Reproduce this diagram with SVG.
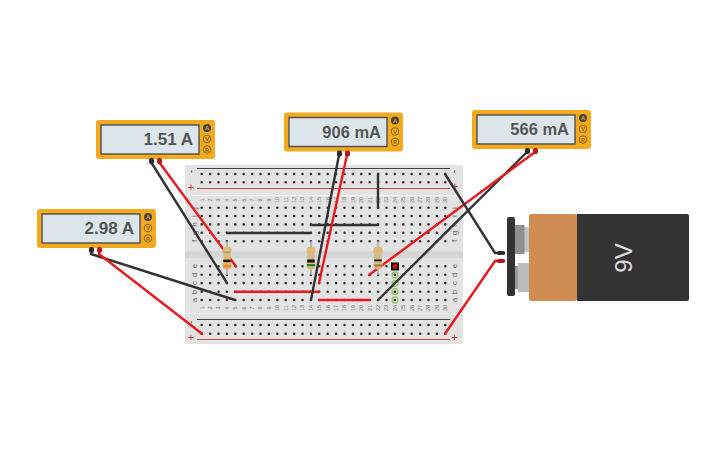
<svg xmlns="http://www.w3.org/2000/svg" width="725" height="453" viewBox="0 0 725 453">
<defs>
<path id="resbody" d="M-3 -11C-1 -11.500 1 -11.500 3 -11C5 -10 5 -6 3.700 -4.500V4.500C5 6 5 10 3 11C1 11.500 -1 11.500 -3 11C-5 10 -5 6 -3.700 4.500V-4.500C-5 -6 -5 -10 -3 -11Z"/>
</defs>
<style>
.h{stroke:#333;stroke-width:2.6;stroke-linecap:round;stroke-dasharray:0 8.4;fill:none}
.bw{stroke:#333;stroke-width:2.4;fill:none;stroke-linecap:round}
.rw{stroke:#e8191f;stroke-width:2.4;fill:none;stroke-linecap:round}
.n{font:5.5px "Liberation Sans",sans-serif;fill:#777;text-anchor:middle}
.l{font:8px "Liberation Sans",sans-serif;fill:#666;text-anchor:middle}
.m{font:10px "Liberation Sans",sans-serif;fill:#444;text-anchor:middle}
.p{font:11px "Liberation Sans",sans-serif;fill:#c5323a;text-anchor:middle}
.body{fill:#f4aa1e}
.disp{fill:#dce6ea;stroke:#555;stroke-width:1.5}
.val{font:bold 17px "Liberation Sans",sans-serif;fill:#555;text-anchor:end}
.val2{font:bold 16.500px "Liberation Sans",sans-serif;fill:#555;text-anchor:end}
.btn{fill:none;stroke:#8a6a10;stroke-width:1}
.bt{font:bold 5.500px "Liberation Sans",sans-serif;fill:#8a6a10;text-anchor:middle}
.on{fill:#444;stroke:none}
.ont{font:bold 5.500px "Liberation Sans",sans-serif;fill:#f4aa1e;text-anchor:middle}
.ring{fill:none;stroke:#94c463;stroke-width:1.300}
.lead{stroke:#aaa;stroke-width:1.500}
.res{fill:#dcb974}
.pb{fill:#2a2a2a}
.pr{fill:#b3161c}
</style>
<g id="breadboard">
<rect x="185" y="165" width="278" height="179" rx="2" fill="#e3e3e3"/>
<rect x="185" y="195" width="278" height="1" fill="#f4f4f4"/>
<rect x="185" y="251" width="278" height="7" fill="#d6d6d6"/>
<rect x="185" y="313" width="278" height="1" fill="#f4f4f4"/>
<line x1="197" y1="168.500" x2="450" y2="168.500" stroke="#444" stroke-width="1.200"/>
<line x1="197" y1="188.500" x2="450" y2="188.500" stroke="#c4424a" stroke-width="1.200"/>
<line x1="197" y1="319.500" x2="450" y2="319.500" stroke="#444" stroke-width="1.200"/>
<line x1="197" y1="339.500" x2="450" y2="339.500" stroke="#c4424a" stroke-width="1.200"/>
<g class="h">
<path d="M201.700 174H446"/><path d="M201.700 182.300H446"/>
<path d="M201.700 207.700H446"/><path d="M201.700 216H446"/><path d="M201.700 224.400H446"/><path d="M201.700 232.800H446"/><path d="M201.700 241.200H446"/>
<path d="M201.700 266.200H446"/><path d="M201.700 274.700H446"/><path d="M201.700 283.100H446"/><path d="M201.700 291.700H446"/><path d="M201.700 300H446"/>
<path d="M201.700 325H446"/><path d="M201.700 333.700H446"/>
</g>
<text class="m" transform="translate(194 171.500) rotate(-90)">-</text><text class="p" x="191" y="190.500">+</text>
<text class="m" transform="translate(457 171.500) rotate(-90)">-</text><text class="p" x="455" y="190">+</text>
<text class="m" transform="translate(194 322) rotate(-90)">-</text><text class="p" x="191" y="340.500">+</text>
<text class="p" x="454.500" y="341">+</text>
<g class="l">
<text transform="translate(197 208) rotate(-90)">j</text><text transform="translate(197 216) rotate(-90)">i</text><text transform="translate(197 224.500) rotate(-90)">h</text><text transform="translate(197 233) rotate(-90)">g</text><text transform="translate(197 241) rotate(-90)">f</text>
<text transform="translate(197 266) rotate(-90)">e</text><text transform="translate(197 275) rotate(-90)">d</text><text transform="translate(197 283) rotate(-90)">c</text><text transform="translate(197 292) rotate(-90)">b</text><text transform="translate(197 300) rotate(-90)">a</text>
<text transform="translate(457 208) rotate(-90)">j</text><text transform="translate(457 216) rotate(-90)">i</text><text transform="translate(457 224.500) rotate(-90)">h</text><text transform="translate(457 233) rotate(-90)">g</text><text transform="translate(457 241) rotate(-90)">f</text>
<text transform="translate(457 266) rotate(-90)">e</text><text transform="translate(457 275) rotate(-90)">d</text><text transform="translate(457 283) rotate(-90)">c</text><text transform="translate(457 292) rotate(-90)">b</text><text transform="translate(457 300) rotate(-90)">a</text>
</g>
<g class="n">
<text transform="translate(203.500 200) rotate(-90)">1</text><text transform="translate(212 200) rotate(-90)">2</text><text transform="translate(220.400 200) rotate(-90)">3</text><text transform="translate(228.800 200) rotate(-90)">4</text><text transform="translate(237.200 200) rotate(-90)">5</text><text transform="translate(245.600 200) rotate(-90)">6</text><text transform="translate(254 200) rotate(-90)">7</text><text transform="translate(262.400 200) rotate(-90)">8</text><text transform="translate(270.800 200) rotate(-90)">9</text><text transform="translate(279.200 200) rotate(-90)">10</text><text transform="translate(287.600 200) rotate(-90)">11</text><text transform="translate(296 200) rotate(-90)">12</text><text transform="translate(304.400 200) rotate(-90)">13</text><text transform="translate(312.800 200) rotate(-90)">14</text><text transform="translate(321.200 200) rotate(-90)">15</text><text transform="translate(329.600 200) rotate(-90)">16</text><text transform="translate(338 200) rotate(-90)">17</text><text transform="translate(346.400 200) rotate(-90)">18</text><text transform="translate(354.800 200) rotate(-90)">19</text><text transform="translate(363.200 200) rotate(-90)">20</text><text transform="translate(371.600 200) rotate(-90)">21</text><text transform="translate(380 200) rotate(-90)">22</text><text transform="translate(388.400 200) rotate(-90)">23</text><text transform="translate(396.800 200) rotate(-90)">24</text><text transform="translate(405.200 200) rotate(-90)">25</text><text transform="translate(413.600 200) rotate(-90)">26</text><text transform="translate(422 200) rotate(-90)">27</text><text transform="translate(430.400 200) rotate(-90)">28</text><text transform="translate(438.800 200) rotate(-90)">29</text><text transform="translate(447.200 200) rotate(-90)">30</text>
<text transform="translate(203.500 308) rotate(-90)">1</text><text transform="translate(212 308) rotate(-90)">2</text><text transform="translate(220.400 308) rotate(-90)">3</text><text transform="translate(228.800 308) rotate(-90)">4</text><text transform="translate(237.200 308) rotate(-90)">5</text><text transform="translate(245.600 308) rotate(-90)">6</text><text transform="translate(254 308) rotate(-90)">7</text><text transform="translate(262.400 308) rotate(-90)">8</text><text transform="translate(270.800 308) rotate(-90)">9</text><text transform="translate(279.200 308) rotate(-90)">10</text><text transform="translate(287.600 308) rotate(-90)">11</text><text transform="translate(296 308) rotate(-90)">12</text><text transform="translate(304.400 308) rotate(-90)">13</text><text transform="translate(312.800 308) rotate(-90)">14</text><text transform="translate(321.200 308) rotate(-90)">15</text><text transform="translate(329.600 308) rotate(-90)">16</text><text transform="translate(338 308) rotate(-90)">17</text><text transform="translate(346.400 308) rotate(-90)">18</text><text transform="translate(354.800 308) rotate(-90)">19</text><text transform="translate(363.200 308) rotate(-90)">20</text><text transform="translate(371.600 308) rotate(-90)">21</text><text transform="translate(380 308) rotate(-90)">22</text><text transform="translate(388.400 308) rotate(-90)">23</text><text transform="translate(396.800 308) rotate(-90)">24</text><text transform="translate(405.200 308) rotate(-90)">25</text><text transform="translate(413.600 308) rotate(-90)">26</text><text transform="translate(422 308) rotate(-90)">27</text><text transform="translate(430.400 308) rotate(-90)">28</text><text transform="translate(438.800 308) rotate(-90)">29</text><text transform="translate(447.200 308) rotate(-90)">30</text>
</g>
</g>
<g id="probe-highlight">
<circle class="ring" cx="395" cy="275" r="3"/><circle class="ring" cx="395" cy="283.300" r="3"/><circle class="ring" cx="395" cy="291.700" r="3"/><circle class="ring" cx="395" cy="300" r="3"/>
<rect x="391" y="262.500" width="8" height="8" fill="#111"/>
<rect x="393" y="264.500" width="4" height="4" fill="#f00"/>
</g>
<g id="connectors">
<path class="bw" d="M227 233H311M311 225H378M378 174V208"/>
<path class="rw" d="M235 291.700H319M319 300H370"/>
<path class="bw" d="M151 162L227 283"/>
<path class="rw" d="M159 162L236 266.500"/>
<path class="bw" d="M91 254L235 300"/>
<path class="rw" d="M99 254L202 333.700"/>
<path class="bw" d="M339 155L311 300"/>
<path class="rw" d="M347 155L319 283"/>
<path class="bw" d="M527 152L378 300"/>
<path class="rw" d="M535 152L369 275"/>
<path class="bw" d="M445 174L495 253H504"/>
<path class="rw" d="M445 333.700L495 261H504"/>
</g>
<g id="resistor1">
<line class="lead" x1="227" y1="241" x2="227" y2="275"/>
<use href="#resbody" class="res" x="227" y="258"/>
<rect x="223.300" y="251.500" width="7.400" height="1.300" fill="#999"/>
<rect x="223.300" y="259.700" width="7.400" height="2.400" fill="#111"/>
<rect x="223" y="264.700" width="8" height="2.600" fill="#f28c1a"/>
</g>
<g id="resistor2">
<line class="lead" x1="311" y1="241" x2="311" y2="275"/>
<use href="#resbody" class="res" x="311" y="258"/>
<rect x="307.300" y="255.500" width="7.400" height="1.500" fill="#bbb"/>
<rect x="307.300" y="259.500" width="7.400" height="3" fill="#111"/>
<rect x="307" y="264" width="8" height="2.200" fill="#1d8a2d"/>
</g>
<g id="resistor3">
<line class="lead" x1="378" y1="241" x2="378" y2="275"/>
<use href="#resbody" class="res" x="378" y="258"/>
<rect x="374.300" y="255.500" width="7.400" height="1.300" fill="#bbb"/>
<rect x="374.300" y="259.500" width="7.400" height="1.800" fill="#111"/>
<rect x="374" y="264.500" width="8" height="2" fill="#8f7a55"/>
</g>
<g id="meter-a">
<rect class="body" x="96" y="120" width="119" height="39" rx="3"/>
<rect class="disp" x="101" y="125" width="98" height="29"/>
<text class="val" x="193" y="145">1.51 A</text>
<circle class="on" cx="207" cy="128" r="4"/><text class="ont" x="207" y="130">A</text>
<circle class="btn" cx="207" cy="139" r="3.800"/><text class="bt" x="207" y="141">V</text>
<circle class="btn" cx="207" cy="149.500" r="3.800"/><text class="bt" x="207" y="151.500">R</text>
<rect class="pb" x="149" y="158" width="5" height="6" rx="2"/><rect class="pr" x="157" y="158" width="5" height="6" rx="2"/>
</g>
<g id="meter-b">
<rect class="body" x="37" y="209" width="119" height="39" rx="3"/>
<rect class="disp" x="42" y="214" width="98" height="29"/>
<text class="val" x="134" y="234">2.98 A</text>
<circle class="on" cx="148" cy="217" r="4"/><text class="ont" x="148" y="219">A</text>
<circle class="btn" cx="148" cy="228" r="3.800"/><text class="bt" x="148" y="230">V</text>
<circle class="btn" cx="148" cy="238.500" r="3.800"/><text class="bt" x="148" y="240.500">R</text>
<rect class="pb" x="89" y="247" width="5" height="6" rx="2"/><rect class="pr" x="97" y="247" width="5" height="6" rx="2"/>
</g>
<g id="meter-c">
<rect class="body" x="284" y="112.500" width="119" height="39" rx="3"/>
<rect class="disp" x="289" y="117.500" width="98" height="29"/>
<text class="val2" x="381" y="137.500">906 mA</text>
<circle class="on" cx="395" cy="120.500" r="4"/><text class="ont" x="395" y="122.500">A</text>
<circle class="btn" cx="395" cy="131.500" r="3.800"/><text class="bt" x="395" y="133.500">V</text>
<circle class="btn" cx="395" cy="142" r="3.800"/><text class="bt" x="395" y="144">R</text>
<rect class="pb" x="337" y="150.500" width="5" height="6" rx="2"/><rect class="pr" x="345" y="150.500" width="5" height="6" rx="2"/>
</g>
<g id="meter-d">
<rect class="body" x="472" y="110" width="119" height="39" rx="3"/>
<rect class="disp" x="477" y="115" width="98" height="29"/>
<text class="val2" x="569" y="135">566 mA</text>
<circle class="on" cx="583" cy="118" r="4"/><text class="ont" x="583" y="120">A</text>
<circle class="btn" cx="583" cy="129" r="3.800"/><text class="bt" x="583" y="131">V</text>
<circle class="btn" cx="583" cy="139.500" r="3.800"/><text class="bt" x="583" y="141.500">R</text>
<rect class="pb" x="525" y="148" width="5" height="6" rx="2"/><rect class="pr" x="533" y="148" width="5" height="6" rx="2"/>
</g>
<g id="battery">
<rect x="524" y="227" width="6" height="25" fill="#c2c2c2"/>
<rect x="515" y="225" width="9.500" height="29" fill="#8f8f8f"/>
<rect x="518" y="263" width="12" height="29" fill="#bdbdbd"/>
<rect x="515" y="266" width="3" height="23" fill="#9a9a9a"/>
<rect x="507" y="217" width="8" height="79" rx="2" fill="#333"/>
<rect x="529" y="214" width="48" height="87" rx="2" fill="#cf8d52"/>
<path d="M577 214H687a2 2 0 0 1 2 2V299a2 2 0 0 1-2 2H577Z" fill="#333"/>
<text transform="translate(632 258) rotate(-90)" font-family="Liberation Sans,sans-serif" font-size="24" fill="#ddd" text-anchor="middle">9V</text>
<rect class="pb" x="497" y="251" width="8" height="4" rx="2"/>
<rect class="pr" x="497" y="259" width="8" height="4" rx="2"/>
</g>
</svg>
